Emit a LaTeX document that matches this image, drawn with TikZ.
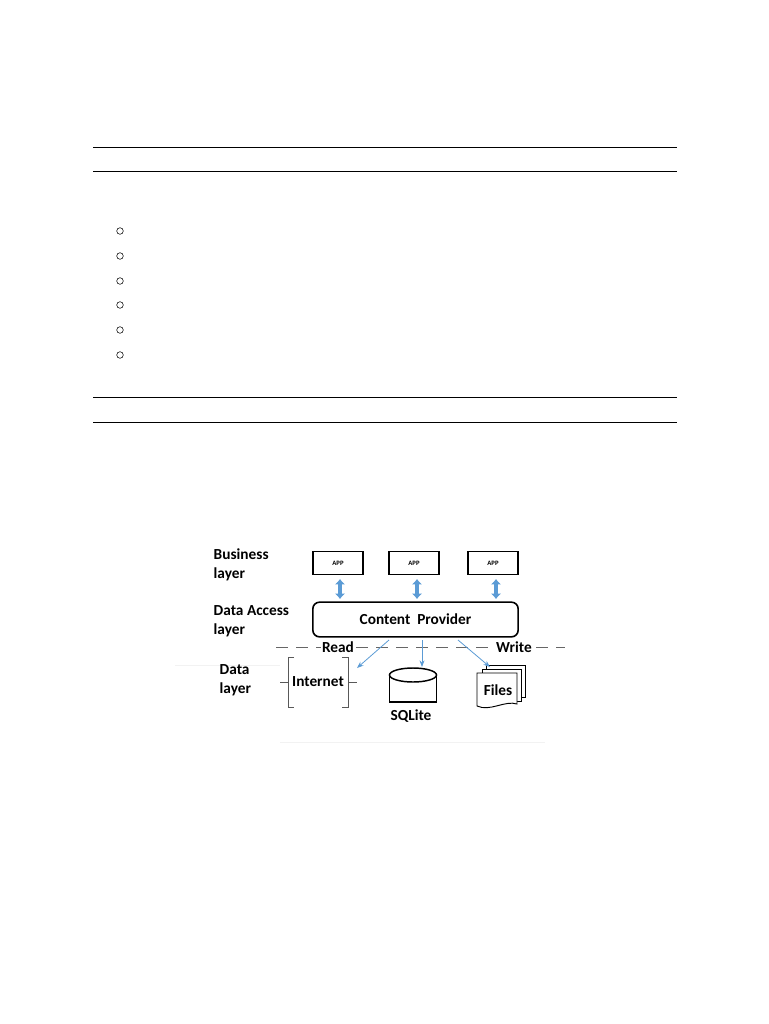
\documentclass[tikz,border=0pt]{standalone}
\usepackage{fontspec}
\setmainfont{Carlito}
\usetikzlibrary{arrows.meta}

\begin{document}
\begin{tikzpicture}[x=0.75pt,y=-0.75pt,
  lbl/.style={font=\bfseries\fontsize{11.5}{14}\selectfont, align=left, anchor=west},
  txt/.style={font=\bfseries\fontsize{11.5}{14}\selectfont},
  appbox/.style={draw, line width=1.2pt, minimum width=37.5pt, minimum height=17pt, font=\bfseries\fontsize{5}{6}\selectfont},
  dbl/.style={{Latex[length=4pt,width=8pt]}-{Latex[length=4pt,width=8pt]}, line width=3.5pt, draw={rgb,255:red,91;green,155;blue,213}},
  thin/.style={-{Stealth[length=5pt]}, draw={rgb,255:red,91;green,155;blue,213}, line width=0.6pt}]
  \useasboundingbox (0,0) rectangle (768,1024);
  % page rules and bullets
  \draw (93,147) -- (677,147);
  \draw (93,171) -- (677,171);
  \draw (93,397) -- (677,397);
  \draw (93,422) -- (677,422);
  \foreach \y in {231,256,281,305,330,355}
    \draw (120,\y) circle (3.3);
  % faint rules
  \draw[gray!10] (175,665) -- (280,665);
  \draw[gray!10] (280,742) -- (545,742);
  % layers
  \node[lbl] (bus) at (209,565) {Business\\layer};
  \node[lbl] (acc) at (209,621) {Data Access\\layer};
  \node[lbl] (dat) at (215,680) {Data\\layer};
  % apps
  \node[appbox] (app1) at (338,563) {APP};
  \node[appbox] (app2) at (414,563) {APP};
  \node[appbox] (app3) at (493,563) {APP};
  \node[draw, line width=1.2pt, rounded corners=5pt, minimum width=154pt, minimum height=26pt,
        txt] (cp) at (415.5,619.5) {Content\ \ Provider};
  \foreach \x in {340,417,496}
    \draw[dbl] (\x,579) -- (\x,599);
  % boundary
  \coordinate (dl) at (276,647);
  \coordinate (dr) at (565,647);
  \draw[dash pattern=on 9pt off 6pt, gray!80!black, line width=0.5pt] (dl) -- (dr);
  \node[txt, fill=white, inner sep=1pt] (rd) at (338,647) {Read};
  \node[txt, fill=white, inner sep=1pt] (wr) at (514,647) {Write};
  % data stores
  \node[txt] (net) at (318,682) {Internet};
  \draw[gray!70!black] (294,657) -- (288,657) -- (288,707) -- (294,707);
  \draw[gray!70!black] (342,657) -- (348,657) -- (348,707) -- (342,707);
  \draw[gray!70!black] (280,682) -- (288,682) (348,682) -- (357,682);
  \coordinate (db) at (413,675);
  \draw[line width=1.1pt] (db) ellipse [x radius=23.5, y radius=7];
  \draw[line width=1.1pt] (389.5,675) -- (389.5,702) -- (436.5,702) -- (436.5,675);
  \node[txt] (sql) at (411,716) {SQLite};
  \draw[line width=0.7pt, fill=white] (486,665) -- (525,665) -- (525,697) -- (486,697) -- cycle;
  \draw[line width=0.7pt, fill=white] (482,669) -- (521,669) -- (521,701) -- (482,701) -- cycle;
  \draw[line width=0.7pt, fill=white] (477,673) -- (517,673) -- (517,704)
        .. controls (505,700) and (490,712) .. (477,706) -- cycle;
  \node[txt] (fl) at (498,690) {Files};
  \coordinate (c1) at (389,640);
  \coordinate (c2) at (422,640);
  \coordinate (c3) at (458,640);
  \draw[thin] (c1) -- (357,668);
  \draw[thin] (c2) -- (422,667);
  \draw[thin] (c3) -- (490,667);
\end{tikzpicture}
\end{document}
